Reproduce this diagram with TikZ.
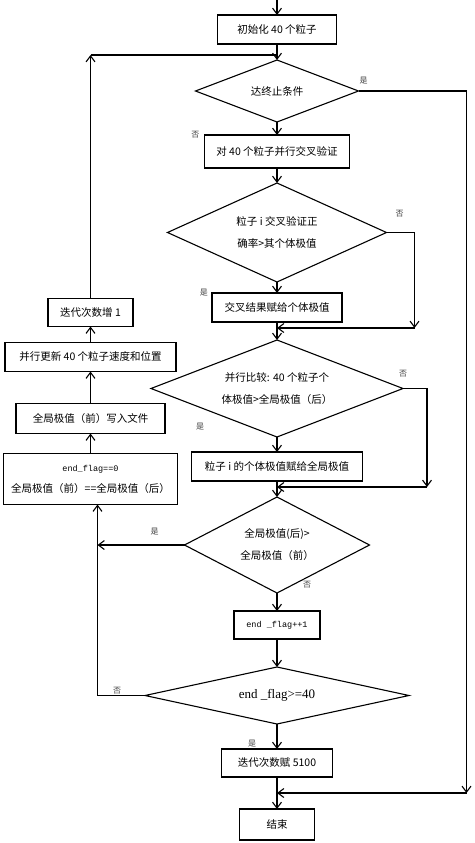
\documentclass[tikz,border=0pt]{standalone}
\usepackage{fontspec}
\setmainfont{Noto Sans CJK SC}
\newfontfamily\flagserif{Liberation Serif}
\newfontfamily\flagmono{Liberation Mono}
\usetikzlibrary{shapes.geometric, positioning, arrows.meta}
\tikzstyle{process} = [
    rectangle, draw, line width=1.1pt, outer sep=0pt,
    minimum height=29pt, inner sep=2pt,
    font=\fontsize{10.5pt}{21pt}\selectfont, align=center
]
\tikzstyle{decision} = [
    diamond, draw, line width=1.1pt, outer sep=0pt, inner sep=0pt,
    font=\fontsize{10.5pt}{22pt}\selectfont, align=center
]
\tikzstyle{flow} = [line width=1.1pt, -{Straight Barb[length=6pt, width=9pt]}]
\tikzstyle{wire} = [line width=1.1pt]
\tikzstyle{yesno} = [font=\fontsize{8pt}{8pt}\selectfont, text=black!75, inner sep=0pt]
\begin{document}
\begin{tikzpicture}[node distance=15pt]
        \useasboundingbox (0,0) rectangle (474pt,-843pt);

        % Main column
        \node[process, minimum width=119pt] (init) at (277pt,-29.5pt) {初始化 40 个粒子};
        \node[decision, minimum width=163pt, minimum height=62pt, aspect=2.6] (stop) [below=16pt of init] {达终止条件};
        \node[process, minimum width=145pt, minimum height=33pt] (xval) [below=13pt of stop] {对 40 个粒子并行交叉验证};
        \node[decision, minimum width=219pt, minimum height=99pt, aspect=2.2] (better) [below=15pt of xval] {粒子 i 交叉验证正\\确率>其个体极值};
        \node[process, minimum width=130pt] (pbest) [below=11pt of better] {交叉结果赋给个体极值};
        \node[decision, minimum width=252pt, minimum height=97pt, aspect=2.6] (compare) [below=18pt of pbest] {并行比较: 40 个粒子个\\体极值>全局极值（后）};
        \node[process, minimum width=171pt] (gbest) [below=15pt of compare] {粒子 i 的个体极值赋给全局极值};
        \node[decision, minimum width=185pt, minimum height=96pt, aspect=1.93] (gain) [below=16pt of gbest] {全局极值(后)>\\全局极值（前）};
        \node[process, minimum width=86pt, minimum height=28pt, font=\flagmono\fontsize{8.5pt}{10pt}\selectfont] (count) [below=18pt of gain] {end \_flag++1};
        \node[decision, minimum width=264pt, minimum height=57pt, aspect=4.6, font=\flagserif\fontsize{13pt}{13pt}\selectfont] (limit) [below=28pt of count] {end \_flag>=40};
        \node[process, minimum width=111pt, minimum height=28pt] (setiter) [below=25pt of limit] {迭代次数赋 5100};
        \node[process, minimum width=75pt, minimum height=31pt] (finish) [below=32pt of setiter] {结束};

        % Left column (loop back)
        \node[process, minimum width=85pt, minimum height=28pt] (iter) [left=79pt of pbest, yshift=-5pt] {迭代次数增 1};
        \node[process, minimum width=171pt] (update) [below=16pt of iter] {并行更新 40 个粒子速度和位置};
        \node[process, minimum width=149pt, minimum height=30pt] (save) [below=32pt of update] {全局极值（前）写入文件};
        \node[process, minimum width=174pt, minimum height=51pt] (reset) [below=20pt of save] {{\flagmono\fontsize{8.5pt}{10pt}\selectfont end\_flag==0}\\全局极值（前）==全局极值（后）};

        % Helper points
        \coordinate (entry) at (init.north |- 0,0);
        \coordinate (junction) at ([yshift=-11pt]init.south);
        \coordinate (looptop) at (iter.north |- junction);
        \coordinate (merge) at ([yshift=16pt]finish.north);
        \coordinate (rail) at ([xshift=108pt]stop.east);
        \coordinate (exitturn) at (rail |- merge);
        \coordinate (merge2) at ([yshift=-6pt]pbest.south);
        \coordinate (rail2) at ([xshift=28pt]better.east);
        \coordinate (turn2) at (rail2 |- merge2);
        \coordinate (merge3) at ([yshift=-6pt]gbest.south);
        \coordinate (rail3) at ([xshift=24pt]compare.east);
        \coordinate (turn3) at (rail3 |- merge3);
        \coordinate (leftrail) at ([xshift=7pt]reset.south);

        % Straight flow
        \draw[flow] (entry) -- (init.north);
        \draw[flow] (init.south) -- (stop.north);
        \draw[flow] (stop.south) -- (xval.north);
        \draw[flow] (xval.south) -- (better.north);
        \draw[flow] (better.south) -- (pbest.north);
        \draw[flow] (pbest.south) -- (compare.north);
        \draw[flow] (compare.south) -- (gbest.north);
        \draw[flow] (gbest.south) -- (gain.north);
        \draw[flow] (gain.south) -- (count.north);
        \draw[flow] (count.south) -- (limit.north);
        \draw[flow] (limit.south) -- (setiter.north);
        \draw[flow] (setiter.south) -- (finish.north);

        % Branches on the right
        \draw[flow] (stop.east) -| (exitturn);
        \draw[flow] (exitturn) -- (merge);
        \draw[flow] (better.east) -| (turn2);
        \draw[flow] (turn2) -- (merge2);
        \draw[flow] (compare.east) -| (turn3);
        \draw[flow] (turn3) -- (merge3);

        % Branches on the left and the loop
        \draw[flow] (gain.west) -- (gain.west -| leftrail);
        \draw[flow] (limit.west) -| (leftrail);
        \draw[flow] (reset.north) -- (save.south);
        \draw[flow] (save.north) -- (update.south);
        \draw[flow] (update.north) -- (iter.south);
        \draw[flow] (iter.north) -- (looptop);
        \draw[wire] (looptop) -- (junction);

        % Yes / no labels
        \node[yesno] (y1) at ([xshift=5pt, yshift=10pt]stop.east) {是};
        \node[yesno, left=5pt of xval.north west] (n1) {否};
        \node[yesno] (n2) at ([xshift=13pt, yshift=19pt]better.east) {否};
        \node[yesno, left=4pt of pbest.north west] (y2) {是};
        \node[yesno] (n3) at ([yshift=15pt]compare.east) {否};
        \node[yesno] (y3) at ([xshift=-77pt, yshift=10pt]compare.south) {是};
        \node[yesno] (y4) at ([xshift=-30pt, yshift=13pt]gain.west) {是};
        \node[yesno] (n4) at ([xshift=30pt, yshift=8pt]gain.south) {否};
        \node[yesno] (n5) at ([xshift=-28pt, yshift=5pt]limit.west) {否};
        \node[yesno] (y5) at ([xshift=-25pt, yshift=-20pt]limit.south) {是};

    \end{tikzpicture}
\end{document}
